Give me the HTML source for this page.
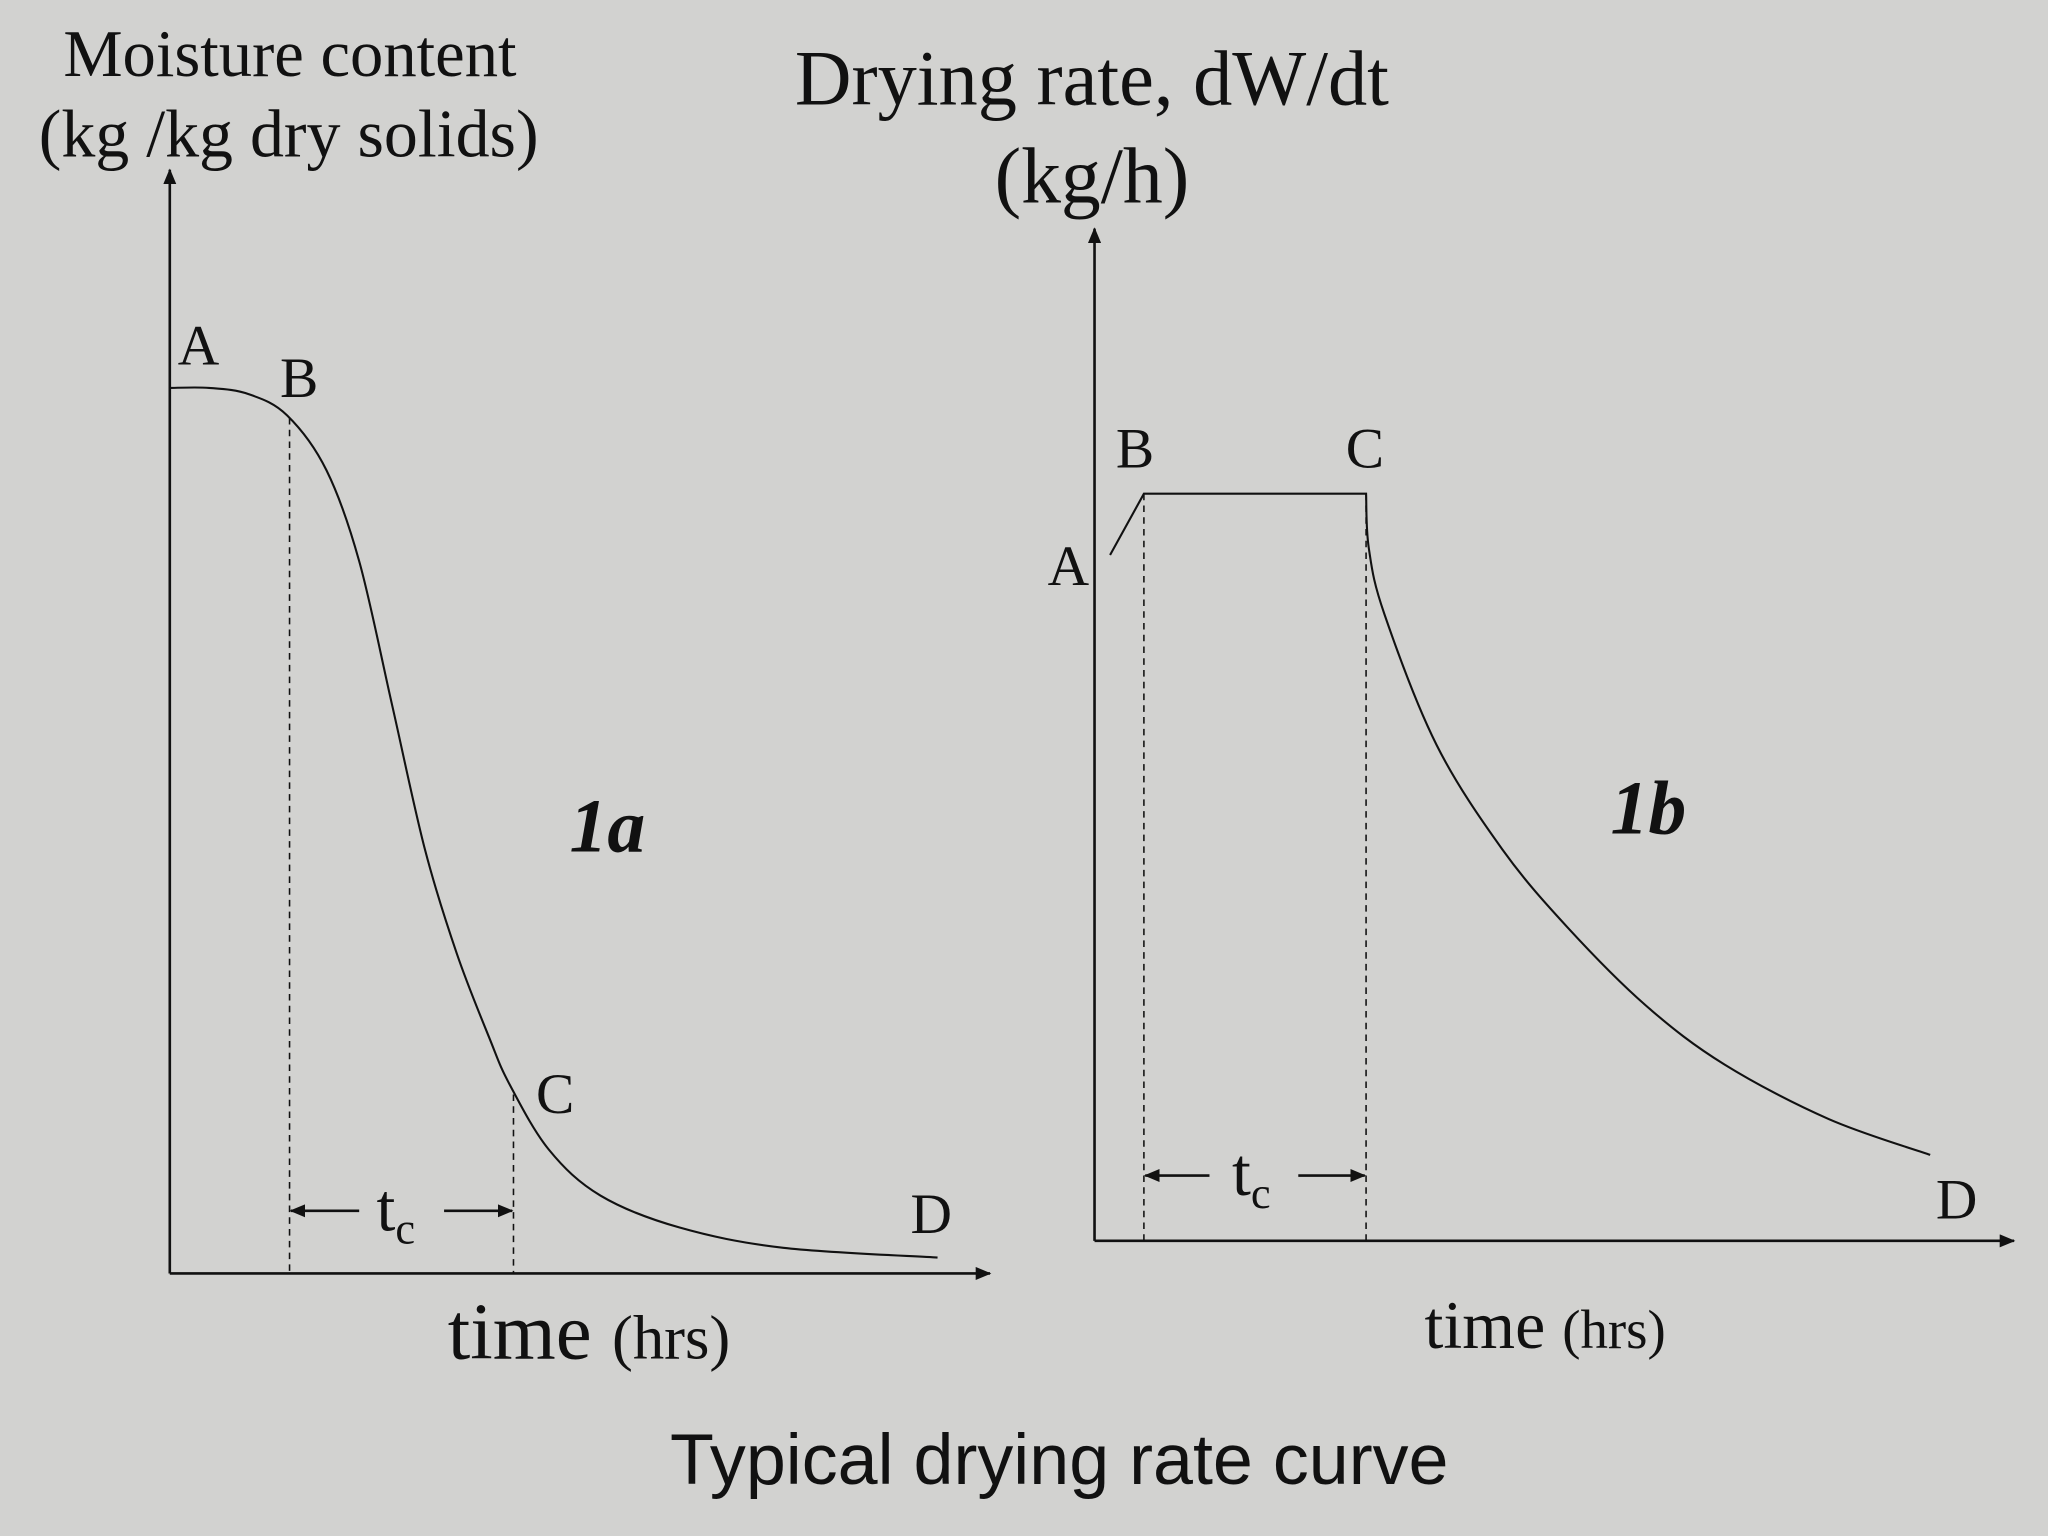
<!DOCTYPE html>
<html><head><meta charset="utf-8"><style>
html,body{margin:0;padding:0;background:#d2d2d0;}
svg{display:block;}
text{font-family:"Liberation Serif",serif;fill:#111;}
</style></head><body>
<svg width="2048" height="1536" viewBox="0 0 1568 1176" xmlns="http://www.w3.org/2000/svg">
<rect width="1568" height="1176" fill="#d2d2d0"/>
<defs><marker id="ar" markerWidth="12" markerHeight="10" refX="11" refY="5" orient="auto" markerUnits="userSpaceOnUse"><path d="M0,0 L12,5 L0,10 z" fill="#111"/></marker></defs>
<g id="ga"></g>
<g id="gb"></g>
<text x="222" y="58" font-size="51" text-anchor="middle">Moisture content</text>
<text x="221" y="120" font-size="52" text-anchor="middle">(kg /kg dry solids)</text>
<text x="836" y="80" font-size="60" text-anchor="middle">Drying rate, dW/dt</text>
<text x="836" y="155" font-size="61" text-anchor="middle">(kg/h)</text>
<text x="152" y="279" font-size="44" text-anchor="middle">A</text>
<text x="229" y="304" font-size="44" text-anchor="middle">B</text>
<text x="425" y="852" font-size="44" text-anchor="middle">C</text>
<text x="713" y="944" font-size="44" text-anchor="middle">D</text>
<text x="818" y="448" font-size="44" text-anchor="middle">A</text>
<text x="869" y="358" font-size="44" text-anchor="middle">B</text>
<text x="1045" y="358" font-size="44" text-anchor="middle">C</text>
<text x="1498" y="933" font-size="44" text-anchor="middle">D</text>
<text x="465" y="652" font-size="58" font-weight="bold" font-style="italic" text-anchor="middle">1a</text>
<text x="1262" y="638" font-size="58" font-weight="bold" font-style="italic" text-anchor="middle">1b</text>
<text x="451" y="1040" font-size="62" text-anchor="middle">time <tspan font-size="48">(hrs)</tspan></text>
<text x="1183" y="1032" font-size="52" text-anchor="middle">time <tspan font-size="42">(hrs)</tspan></text>
<text x="811" y="1136" font-size="55" text-anchor="middle" style="font-family:'Liberation Sans',sans-serif">Typical drying rate curve</text>
<text x="303" y="942" font-size="52" text-anchor="middle">t<tspan font-size="34" dy="10">c</tspan></text>
<text x="958" y="915" font-size="52" text-anchor="middle">t<tspan font-size="34" dy="10">c</tspan></text>
</svg>
<script>
// Chart 1a data (moisture content vs time)
const timeA = [0,0.48,0.96,1.43,1.91,2.31,2.71,3.11,3.50,3.90,4.14,4.62,5.25,6.21,7.48,9.36];
const moistA = [1.0,1.0,0.993,0.969,0.907,0.804,0.642,0.479,0.361,0.265,0.214,0.140,0.088,0.052,0.029,0.018];
const tBa = 1.46, tCa = 4.19;
// Chart 1b data (drying rate vs time)
const timeB = [0.17,0.54,2.97,3.0,3.17,3.74,4.46,5.17,6.03,6.89,8.03,9.14];
const rateB = [0.918,1,1,0.927,0.839,0.664,0.524,0.420,0.315,0.236,0.163,0.115];
const tBb = 0.54, tCb = 2.97;

const NS="http://www.w3.org/2000/svg";
function mk(g,tag,attrs){const e=document.createElementNS(NS,tag);for(const k in attrs)e.setAttribute(k,attrs[k]);g.appendChild(e);return e;}
const xa=t=>130+t*62.8, ya=v=>975-v*678;
const xb=t=>838+t*70, yb=v=>950-v*572;
function smooth(p){let d=`M${p[0][0]},${p[0][1]}`;for(let i=0;i<p.length-1;i++){const p0=p[i-1]||p[i],p1=p[i],p2=p[i+1],p3=p[i+2]||p2;d+=` C${p1[0]+(p2[0]-p0[0])/6},${p1[1]+(p2[1]-p0[1])/6} ${p2[0]-(p3[0]-p1[0])/6},${p2[1]-(p3[1]-p1[1])/6} ${p2[0]},${p2[1]}`;}return d;}
const ga=document.getElementById('ga'), gb=document.getElementById('gb');
let e;
e=mk(ga,'line',{x1:130,y1:975,x2:130,y2:130,stroke:'#111','stroke-width':2,'marker-end':'url(#ar)'});


e=mk(ga,'line',{x1:130,y1:975,x2:758,y2:975,stroke:'#111','stroke-width':2,'marker-end':'url(#ar)'});


e=mk(ga,'path',{d:smooth(timeA.map((t,i)=>[xa(t),ya(moistA[i])])),fill:'none',stroke:'#111','stroke-width':1.6});


[[tBa,320],[tCa,838]].forEach(([t,y0])=>{e=mk(ga,'line',{x1:xa(t),y1:y0,x2:xa(t),y2:975,stroke:'#111','stroke-width':1.2,'stroke-dasharray':'5,4'});

});
e=mk(ga,'line',{x1:275,y1:927,x2:xa(tBa)+1,y2:927,stroke:'#111','stroke-width':2,'marker-end':'url(#ar)'});


e=mk(ga,'line',{x1:340,y1:927,x2:xa(tCa)-1,y2:927,stroke:'#111','stroke-width':2,'marker-end':'url(#ar)'});



e=mk(gb,'line',{x1:838,y1:950,x2:838,y2:175,stroke:'#111','stroke-width':2,'marker-end':'url(#ar)'});


e=mk(gb,'line',{x1:838,y1:950,x2:1542,y2:950,stroke:'#111','stroke-width':2,'marker-end':'url(#ar)'});


const pb=timeB.map((t,i)=>[xb(t),yb(rateB[i])]);
e=mk(gb,'path',{d:`M${pb[0]} L${pb[1]} L${pb[2]} `+smooth(pb.slice(2)).replace('M','L'),fill:'none',stroke:'#111','stroke-width':1.6});


[tBb,tCb].forEach(t=>{e=mk(gb,'line',{x1:xb(t),y1:yb(1),x2:xb(t),y2:950,stroke:'#111','stroke-width':1.2,'stroke-dasharray':'5,4'});

});
e=mk(gb,'line',{x1:926,y1:900,x2:xb(tBb)+1,y2:900,stroke:'#111','stroke-width':2,'marker-end':'url(#ar)'});


e=mk(gb,'line',{x1:994,y1:900,x2:xb(tCb)-1,y2:900,stroke:'#111','stroke-width':2,'marker-end':'url(#ar)'});


</script>
</body></html>
